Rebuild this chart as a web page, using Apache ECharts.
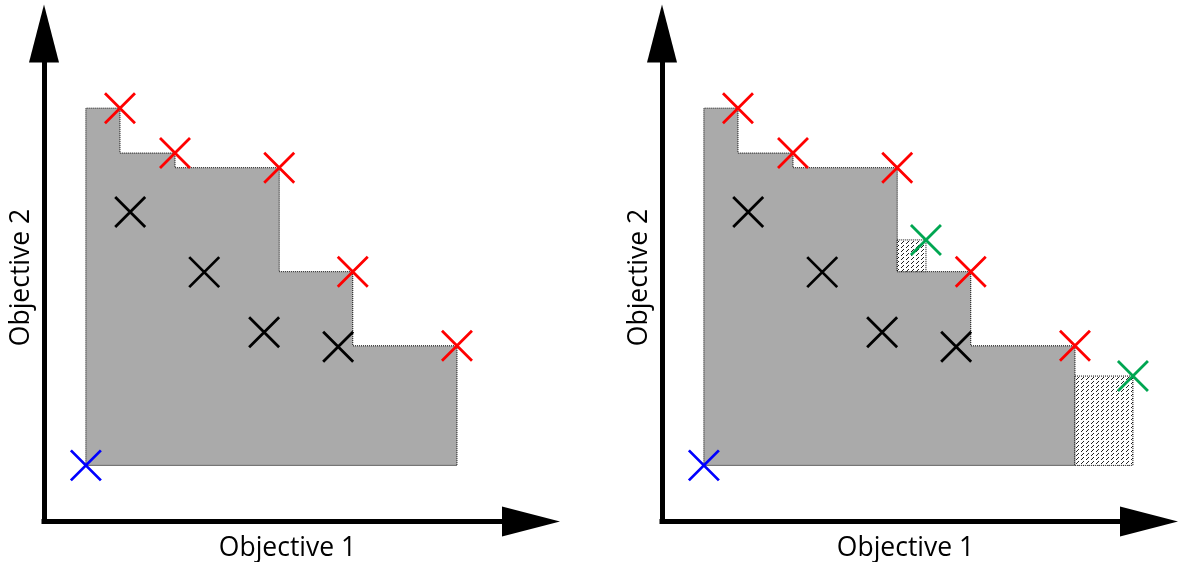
<!DOCTYPE html>
<html>
<head>
<meta charset="utf-8">
<script src="https://cdn.jsdelivr.net/npm/echarts@6/dist/echarts.min.js"></script>
<style>
  html, body { margin: 0; padding: 0; background: #fff; }
  #main { width: 1181px; height: 562px; }
</style>
</head>
<body>
<div id="main"></div>
<script>
// objective values, both objectives maximised, axes 0..100
const refPoint = [[8.6, 11.5]];
const paretoFront = [[15.6, 84.7], [26.9, 75.5], [48.3, 72.5], [63.4, 51.2], [84.8, 36.0]];
const dominated = [[17.7, 63.4], [32.9, 51.1], [45.2, 38.8], [60.4, 35.8]];
const newPoints = [[54.2, 57.7], [96.7, 29.8]];
const axisNames = ['Objective 1', 'Objective 2'];

const chart = echarts.init(document.getElementById('main'));

// hatch pattern for the extra volume
const hatch = document.createElement('canvas');
hatch.width = 5;
hatch.height = 4;
const hctx = hatch.getContext('2d');
hctx.fillStyle = '#fff';
hctx.fillRect(0, 0, 5, 4);
hctx.fillStyle = '#222';
hctx.fillRect(1, 3, 1, 1);
hctx.fillRect(2, 2, 1, 1);
hctx.fillRect(3, 1, 1, 1);

const dotted = { stroke: '#000', lineWidth: 1, lineDash: [1, 1] };

// staircase outline of the region dominated by the front
function volumeItem(params, api) {
  const ref = refPoint[0];
  const pts = [[ref[0], ref[1]], [ref[0], paretoFront[0][1]]];
  paretoFront.forEach((p, i) => {
    const next = paretoFront[i + 1];
    pts.push([p[0], p[1]]);
    pts.push([p[0], next ? next[1] : ref[1]]);
  });
  return {
    type: 'polygon',
    shape: { points: pts.map(p => api.coord(p)) },
    style: Object.assign({ fill: '#aaaaaa' }, dotted)
  };
}

// rectangle each new point adds to the volume
function addedItem(params, api) {
  const g = newPoints[params.dataIndex];
  let x0 = refPoint[0][0], y0 = refPoint[0][1];
  paretoFront.forEach(p => {
    if (p[1] >= g[1]) x0 = Math.max(x0, p[0]);
    if (p[0] >= g[0]) y0 = Math.max(y0, p[1]);
  });
  const a = api.coord([x0, g[1]]);
  const b = api.coord([g[0], y0]);
  return {
    type: 'rect',
    shape: { x: a[0], y: a[1], width: b[0] - a[0], height: b[1] - a[1] },
    style: Object.assign({ fill: { image: hatch, repeat: 'repeat' } }, dotted)
  };
}

const cross = 'path://M0,0L10,10M10,0L0,10';
function crosses(data, color, idx) {
  return {
    type: 'scatter', data: data, xAxisIndex: idx, yAxisIndex: idx,
    symbol: cross, symbolSize: 30, z: 5, silent: true,
    itemStyle: { color: 'none', borderColor: color, borderWidth: 2.8, opacity: 1 }
  };
}

const font = { fontFamily: 'Open Sans', fontSize: 26.5, color: '#000' };
function axis(name, gap) {
  return {
    type: 'value', min: 0, max: 100, name: name, nameLocation: 'middle', nameGap: gap,
    nameTextStyle: font,
    axisLine: {
      show: true, onZero: false,
      symbol: ['none', 'path://M15,0L30,58L0,58Z'], symbolSize: [30, 58],
      lineStyle: { color: '#000', width: 5, cap: 'square' }
    },
    axisTick: { show: false }, axisLabel: { show: false }, splitLine: { show: false }
  };
}

const option = {
  animation: false,
  grid: [
    { left: 44, top: 33.5, width: 487, height: 488, outerBoundsMode: 'none' },
    { left: 662, top: 33.5, width: 487, height: 488, outerBoundsMode: 'none' }
  ],
  xAxis: [axis(axisNames[0], 13), Object.assign(axis(axisNames[0], 13), { gridIndex: 1 })],
  yAxis: [axis(axisNames[1], 9), Object.assign(axis(axisNames[1], 9), { gridIndex: 1 })],
  series: [
    { type: 'custom', renderItem: volumeItem, data: [0], xAxisIndex: 0, yAxisIndex: 0, silent: true },
    { type: 'custom', renderItem: volumeItem, data: [0], xAxisIndex: 1, yAxisIndex: 1, silent: true },
    { type: 'custom', renderItem: addedItem, data: newPoints, xAxisIndex: 1, yAxisIndex: 1, silent: true },
    crosses(paretoFront, '#ff0000', 0),
    crosses(dominated, '#000000', 0),
    crosses(refPoint, '#0000ff', 0),
    crosses(paretoFront, '#ff0000', 1),
    crosses(dominated, '#000000', 1),
    crosses(refPoint, '#0000ff', 1),
    crosses(newPoints, '#00a651', 1)
  ]
};
chart.setOption(option);
</script>
</body>
</html>
